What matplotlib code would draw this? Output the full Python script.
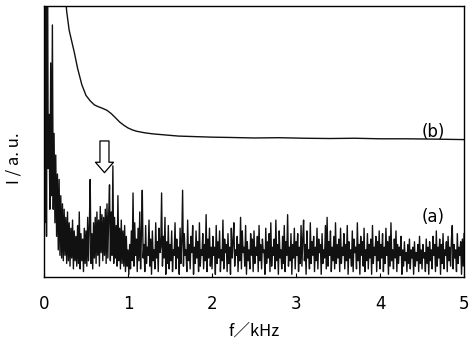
import numpy as np
import matplotlib
matplotlib.use('Agg')
import matplotlib.pyplot as plt

# ---- trace (b): smooth spectrum, upper curve
freq_b = [0.24, 0.27, 0.30, 0.33, 0.36, 0.40, 0.45, 0.50, 0.55, 0.60,
          0.65, 0.70, 0.75, 0.80, 0.85, 0.90, 0.95, 1.00, 1.05, 1.10,
          1.20, 1.30, 1.45, 1.60, 1.80, 2.00, 2.20, 2.50, 2.80, 3.10,
          3.40, 3.70, 4.00, 4.30, 4.60, 5.00]
int_b = [110, 98, 91, 87, 83, 77, 71, 67, 65, 63.5,
         62.8, 62.2, 61.5, 60.3, 58.8, 57.2, 56.0, 55.0, 54.3, 53.8,
         53.2, 52.8, 52.4, 52.0, 51.8, 51.6, 51.5, 51.3, 51.4, 51.2,
         51.1, 51.2, 51.0, 51.0, 50.9, 50.7]

# ---- trace (a): noisy spectrum, one value every 0.01 kHz (0 ... 5 kHz)
step_a = 0.01
int_a_0 = [150, 20, 150, 15, 150, 40, 60, 25, 79, 30,
           93, 25, 53, 20, 45, 15, 38, 10, 36, 8,
           30, 7, 27, 6, 25, 8, 22, 5, 24, 6,
           20, 4, 18, 7, 21, 3, 17, 6, 15, 4,
           19, 5, 24, 3, 16, 6, 14, 2, 18, 5]
int_a_1 = [17, 4, 22, 6, 19, 36, 5, 16, 3, 20,
           7, 22, 5, 24, 8, 21, 4, 26, 9, 23,
           6, 22, 8, 25, 5, 27, 7, 23, 34, 6,
           24, 8, 41, 5, 22, 7, 19, 4, 30, 6,
           18, 3, 21, 5, 17, 4, 19, 2, 15, 4]
int_a_2 = [10, 1, 12, 3, 17, 6, 31, 4, 20, 8,
           14, 2, 18, 6, 24, 3, 16, 32, 7, 12,
           2, 19, 5, 11, 8, 21, 4, 14, 1, 17,
           6, 10, 3, 20, 7, 13, 2, 18, 9, 11,
           31, 4, 15, 7, 22, 1, 13, 5, 19, 3]
int_a_3 = [12, 6, 17, 2, 10, 8, 20, 3, 14, 7,
           11, 1, 18, 5, 13, 32, 4, 16, 8, 10,
           2, 21, 6, 12, 3, 15, 9, 19, 1, 11,
           5, 17, 7, 13, 2, 20, 4, 10, 8, 16,
           3, 12, 6, 23, 2, 14, 7, 18, 4, 11]
int_a_4 = [3, 15, 8, 11, 1, 19, 5, 13, 7, 17,
           2, 10, 6, 21, 3, 14, 9, 12, 2, 16,
           5, 11, 1, 18, 7, 13, 20, 4, 10, 8,
           15, 2, 12, 6, 22, 3, 17, 9, 11, 4,
           19, 1, 13, 6, 10, 3, 16, 8, 14, 2]
int_a_5 = [17, 5, 11, 8, 15, 2, 19, 6, 12, 3,
           14, 9, 10, 1, 18, 5, 13, 7, 16, 2,
           20, 4, 11, 8, 14, 3, 21, 6, 12, 1,
           17, 7, 10, 3, 15, 5, 19, 2, 13, 8,
           23, 4, 11, 6, 16, 1, 12, 7, 18, 3]
int_a_6 = [13, 8, 16, 2, 11, 5, 19, 4, 14, 21,
           6, 12, 1, 17, 7, 10, 3, 20, 5, 13,
           8, 15, 2, 11, 6, 18, 3, 14, 9, 12,
           1, 16, 5, 10, 7, 19, 3, 22, 4, 13,
           8, 17, 2, 11, 6, 15, 3, 20, 5, 12]
int_a_7 = [7, 14, 2, 18, 5, 11, 8, 16, 3, 12,
           6, 19, 1, 13, 7, 10, 4, 17, 2, 14,
           9, 11, 3, 20, 6, 12, 1, 15, 8, 13,
           4, 18, 2, 10, 6, 16, 3, 12, 7, 14,
           1, 19, 5, 11, 8, 15, 2, 13, 6, 17]
int_a_8 = [3, 12, 7, 16, 2, 11, 5, 18, 8, 13,
           1, 15, 4, 20, 6, 10, 3, 14, 7, 17,
           2, 12, 5, 11, 8, 15, 1, 10, 4, 13,
           6, 9, 2, 12, 5, 14, 3, 10, 7, 11,
           1, 13, 4, 9, 6, 12, 2, 15, 5, 10]
int_a_9 = [3, 12, 7, 9, 2, 14, 5, 11, 1, 13,
           6, 10, 3, 15, 8, 12, 2, 17, 4, 11,
           7, 14, 1, 12, 5, 16, 3, 10, 8, 13,
           2, 15, 6, 11, 4, 14, 19, 3, 12, 7,
           10, 2, 16, 5, 11, 8, 13, 1, 14, 4,
           16]

int_a = (int_a_0 + int_a_1 + int_a_2 + int_a_3 + int_a_4 + int_a_5
         + int_a_6 + int_a_7 + int_a_8 + int_a_9)
freq_a = np.arange(len(int_a)) * step_a

x_ticks = [0, 1, 2, 3, 4, 5]

fig = plt.figure(figsize=(4.74, 3.41), dpi=100)
ax = fig.add_axes([0.0928, 0.1877, 0.8862, 0.7947])

ax.plot(freq_a, int_a, color='#111111', lw=1.0)
ax.plot(freq_b, int_b, color='#111111', lw=1.0)

ax.text(4.63, 53.5, '(b)', ha='center', va='center', fontsize=12)
ax.text(4.63, 22, '(a)', ha='center', va='center', fontsize=12)

# hollow arrow
ax.annotate('', xy=(0.72, 38.5), xytext=(0.72, 50.2),
            arrowprops=dict(arrowstyle='simple,head_width=1.3,head_length=0.75,tail_width=0.65',
                            fc='white', ec='black', lw=0.9, mutation_scale=10,
                            shrinkA=0, shrinkB=0))

ax.set_xlim(0, 5)
ax.set_ylim(0, 100)
ax.set_xticks(x_ticks)
ax.set_yticks([])
ax.tick_params(axis='x', direction='in', length=3, pad=13, labelsize=12)
for s in ax.spines.values():
    s.set_linewidth(1.0)

ax.set_xlabel('f／kHz', fontsize=12, labelpad=7,
              family=['Noto Sans CJK JP', 'DejaVu Sans'])
ax.set_ylabel('I / a. u.', fontsize=12,
              family=['Noto Sans CJK JP', 'DejaVu Sans'])
ax.yaxis.set_label_coords(-0.05, 0.44)

plt.savefig('out.png', dpi=100)
